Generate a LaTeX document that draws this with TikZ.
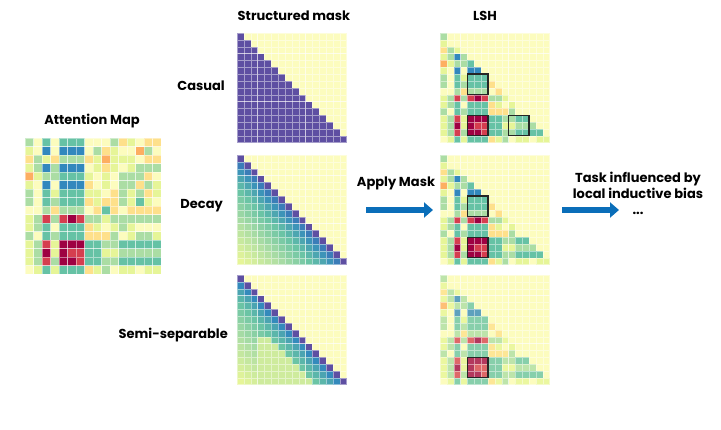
\documentclass[tikz,border=0pt]{standalone}
\usepackage{fontspec}
\setmainfont{Poppins}
\usetikzlibrary{arrows.meta}
\definecolor{s0}{RGB}{158,1,66}
\definecolor{s1}{RGB}{213,62,79}
\definecolor{s2}{RGB}{244,109,67}
\definecolor{s3}{RGB}{253,174,97}
\definecolor{s4}{RGB}{254,224,139}
\definecolor{s5}{RGB}{252,252,190}
\definecolor{s6}{RGB}{230,245,152}
\definecolor{s7}{RGB}{171,221,164}
\definecolor{s8}{RGB}{102,194,165}
\definecolor{s9}{RGB}{50,136,189}
\definecolor{s10}{RGB}{94,79,162}
\colorlet{cD}{s0}\colorlet{cR}{s1}\colorlet{cO}{s3}\colorlet{cY}{s4}
\colorlet{cP}{s5}\colorlet{cL}{s6}\colorlet{cG}{s7}\colorlet{cT}{s8}
\colorlet{cB}{s9}\colorlet{cV}{s10}
\definecolor{arrblue}{RGB}{10,110,185}
\def\attrows{{G,P,T,P,T,T,T,P,P,P,G,Y,L,P,Y,Y},
{L,P,B,P,B,B,B,P,G,Y,L,P,P,O,G,P},
{Y,G,L,Y,G,G,G,Y,L,O,L,L,L,P,Y,Y},
{L,G,B,G,B,B,B,P,L,Y,L,P,L,G,G,G},
{O,L,G,G,T,T,T,L,P,L,P,G,G,G,Y,P},
{L,P,B,P,B,B,B,Y,P,L,P,G,G,Y,G,L},
{G,P,T,L,T,T,T,L,L,P,Y,G,L,G,Y,L},
{G,P,T,G,T,T,T,Y,L,Y,Y,G,L,T,L,P},
{P,P,G,Y,G,G,G,P,Y,T,Y,P,Y,Y,Y,Y},
{L,G,R,G,R,D,R,G,G,L,G,G,G,G,G,G},
{L,G,T,P,T,T,T,Y,L,P,L,G,L,P,P,P},
{G,P,T,G,T,T,T,Y,Y,Y,G,P,L,G,G,L},
{L,G,R,L,D,D,D,T,T,G,G,T,T,T,T,T},
{L,G,D,L,D,R,R,T,T,L,L,G,G,G,G,G},
{L,G,R,G,D,D,R,T,T,G,G,T,T,T,T,T},
{P,L,T,L,T,T,T,Y,L,G,P,L,L,P,L,L}}
\tikzset{cell/.style={draw=white!100,draw opacity=0.45,line width=0.25pt},
 lbl/.style={font=\bfseries\fontsize{13}{16}\selectfont,inner sep=1pt},
 hibox/.style={draw=black!85,line width=1.3pt},
 bigarrow/.style={arrblue,line width=6pt,-{Triangle[length=9pt,width=15pt]}}}
\newcommand\cs{6.85}
% mode: 0 full, 1 lower, 2 lower faded; #4 cell size
\newcommand\attmap[4]{%
 \foreach \row [count=\i from 0] in \attrows {
  \foreach \c [count=\j from 0] in \row {
   \ifnum\j>\i\relax \ifnum#3>0 \colorlet{tmpc}{cP}\else\colorlet{tmpc}{c\c}\fi
   \else \ifnum#3=2 \colorlet{tmpc}{c\c!78!cP}\else\colorlet{tmpc}{c\c}\fi\fi
   \fill[tmpc,cell] (#1+\j*#4,#2+\i*#4) rectangle ++(#4,#4);
  }}}
\newcommand\maskmap[3]{%
 \foreach \i in {0,...,15}{\foreach \j in {0,...,15}{
  \ifnum\j>\i\relax \colorlet{tmpc}{cP}\else
   \pgfmathtruncatemacro\d{\i-\j}
   \ifcase#3 \def\v{10}\or
    \pgfmathsetmacro\v{10-4*(\d/15)^0.6}\or
    \pgfmathsetmacro\v{(\i>8)&&(\j>2)&&(\d>4)?6.4:(10-4*(\d/15)^0.5)}\fi
   \pgfmathtruncatemacro\lo{floor(\v)}
   \pgfmathtruncatemacro\hi{min(\lo+1,10)}
   \pgfmathtruncatemacro\pc{round((\v-\lo)*100)}
   \colorlet{tmpc}{s\hi!\pc!s\lo}\fi
  \fill[tmpc,cell] (#1+\j*\cs,#2+\i*\cs) rectangle ++(\cs,\cs);
 }}}
\newcommand\hib[4]{\draw[hibox] (#1+#3*\cs,#2+#4*\cs) rectangle ++(3*\cs,3*\cs);}
\begin{document}
\begin{tikzpicture}[x=1pt,y=-1pt]
\useasboundingbox (0,0) rectangle (721,429);
\attmap{25}{138}{0}{8.5}
\maskmap{237}{33}{0}
\maskmap{237}{155}{1}
\maskmap{237}{275}{2}
\attmap{440}{33}{1}{\cs}
\attmap{440}{155}{1}{\cs}
\attmap{440}{275}{2}{\cs}
\hib{440}{33}{4}{6}\hib{440}{33}{4}{12}\hib{440}{33}{10}{12}
\hib{440}{155}{4}{6}\hib{440}{155}{4}{12}
\hib{440}{275}{4}{12}
\node[lbl] (t1) at (294,16) {Structured mask};
\node[lbl] (t2) at (485,16) {LSH};
\node[lbl] (t3) at (92,121) {Attention Map};
\node[lbl,anchor=east] (l1) at (226,86) {Casual};
\node[lbl,anchor=east] (l2) at (224,206) {Decay};
\node[lbl,anchor=east] (l3) at (229,335) {Semi-separable};
\node[lbl] (am) at (396,183) {Apply Mask};
\node[lbl,align=center] (task) at (638,193) {Task influenced by\\local inductive bias\\...};
\coordinate (a1s) at (366,210); \coordinate (a1e) at (433,210);
\coordinate (a2s) at (562,210); \coordinate (a2e) at (619,210);
\draw[bigarrow] (a1s) -- (a1e);
\draw[bigarrow] (a2s) -- (a2e);
\end{tikzpicture}
\end{document}
